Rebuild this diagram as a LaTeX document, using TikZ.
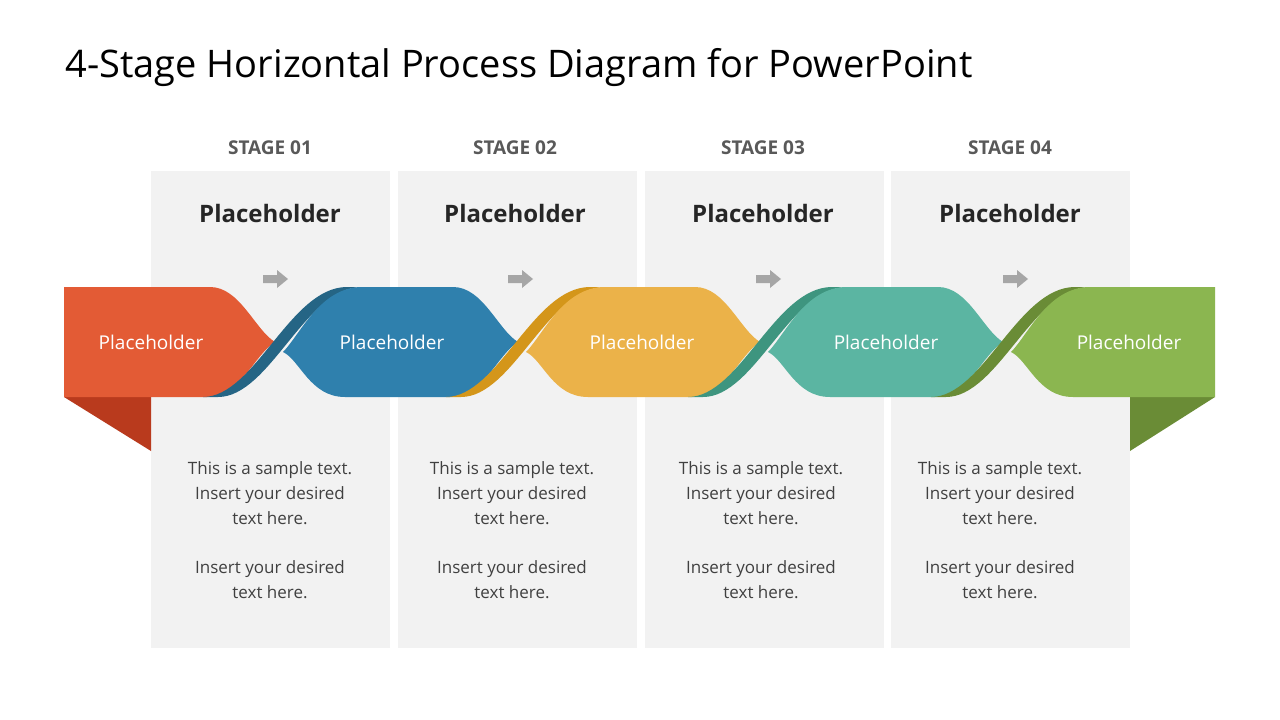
\documentclass[tikz,border=0pt]{standalone}
\usepackage{fontspec}
\setmainfont{Open Sans}
\definecolor{cO}{HTML}{E35B35}\definecolor{dO}{HTML}{B93A1D}
\definecolor{cB}{HTML}{2F80AD}\definecolor{dB}{HTML}{256585}
\definecolor{cY}{HTML}{EBB249}\definecolor{dY}{HTML}{D4961A}
\definecolor{cT}{HTML}{5BB5A2}\definecolor{dT}{HTML}{3E957F}
\definecolor{cG}{HTML}{8BB650}\definecolor{dG}{HTML}{6A8C36}
\definecolor{panel}{HTML}{F2F2F2}
\begin{document}
\begin{tikzpicture}[x=1pt,y=-1pt,
  stage/.style={font=\fontsize{19}{22}\selectfont\bfseries,text=black!65},
  head/.style={font=\fontsize{24}{28}\selectfont\bfseries,text=black!85},
  body/.style={font=\fontsize{17}{25}\selectfont,text=black!75,align=center},
  rib/.style={font=\fontsize{19}{22}\selectfont,text=white},
  arr/.style={fill=black!35,draw=none}]
\useasboundingbox (0,0) rectangle (1280,720);
\fill[white] (0,0) rectangle (1280,720);
\node[anchor=west,font=\fontsize{38}{44}\selectfont] (title) at (62,68) {4-Stage Horizontal Process Diagram for PowerPoint};
% panels
\foreach \x/\c/\n in {151/270/01,398/515/02,645/763/03,891/1010/04}{
  \fill[panel] (\x,171) rectangle ++(239,477);
  \node[stage] (s\n) at (\c,148) {STAGE \n};
  \node[head] (h\n) at (\c,213) {Placeholder};
  \fill[arr] (\c-7,275) -- (\c+7,275) -- (\c+7,270) -- (\c+18,279) -- (\c+7,288) -- (\c+7,283) -- (\c-7,283) -- cycle;
}
\foreach \c/\n in {270/01,512/02,761/03,1000/04}
  \node[body] (b\n) at (\c,530) {This is a sample text.\\Insert your desired\\text here.\\[24pt]Insert your desired\\text here.};
% triangles
\fill[dO] (64,397) -- (151,397) -- (151,451) -- cycle;
\fill[dG] (1130,397) -- (1215,397) -- (1130,451) -- cycle;
% orange
\def\tA{275}\def\tB{518}\def\tC{760}\def\tD{1003}
\fill[cO] (64,287) -- (\tA-65,287) .. controls (\tA-35,287) and (\tA-20,330) .. (\tA,342) .. controls (\tA-20,354) and (\tA-35,397) .. (\tA-68,397) -- (64,397) -- cycle;
\def\strip#1#2{\fill[#2] (#1-72,397) .. controls (#1-20,397) and (#1+15,287) .. (#1+72,287) -- (#1+87,287) .. controls (#1+30,287) and (#1-5,397) .. (#1-57,397) -- cycle;}
\def\seg#1#2#3{\fill[#3] (#1+87,287) -- (#2-65,287) .. controls (#2-35,287) and (#2-20,330) .. (#2,342) .. controls (#2-20,354) and (#2-35,397) .. (#2-68,397) -- (#1+70,397) .. controls (#1+35,397) and (#1+25,360) .. (#1+8,352) .. controls (#1+25,335) and (#1+45,287) .. (#1+87,287) -- cycle;}
\strip{\tA}{dB}\seg{\tA}{\tB}{cB}
\strip{\tB}{dY}\seg{\tB}{\tC}{cY}
\strip{\tC}{dT}\seg{\tC}{\tD}{cT}
\strip{\tD}{dG}
\fill[cG] (\tD+87,287) -- (1215,287) -- (1215,397) -- (\tD+70,397) .. controls (\tD+35,397) and (\tD+25,360) .. (\tD+8,352) .. controls (\tD+25,335) and (\tD+45,287) .. (\tD+87,287) -- cycle;
\foreach \c/\n in {151/1,392/2,642/3,886/4,1129/5}
  \node[rib] (r\n) at (\c,342) {Placeholder};
\end{tikzpicture}
\end{document}
